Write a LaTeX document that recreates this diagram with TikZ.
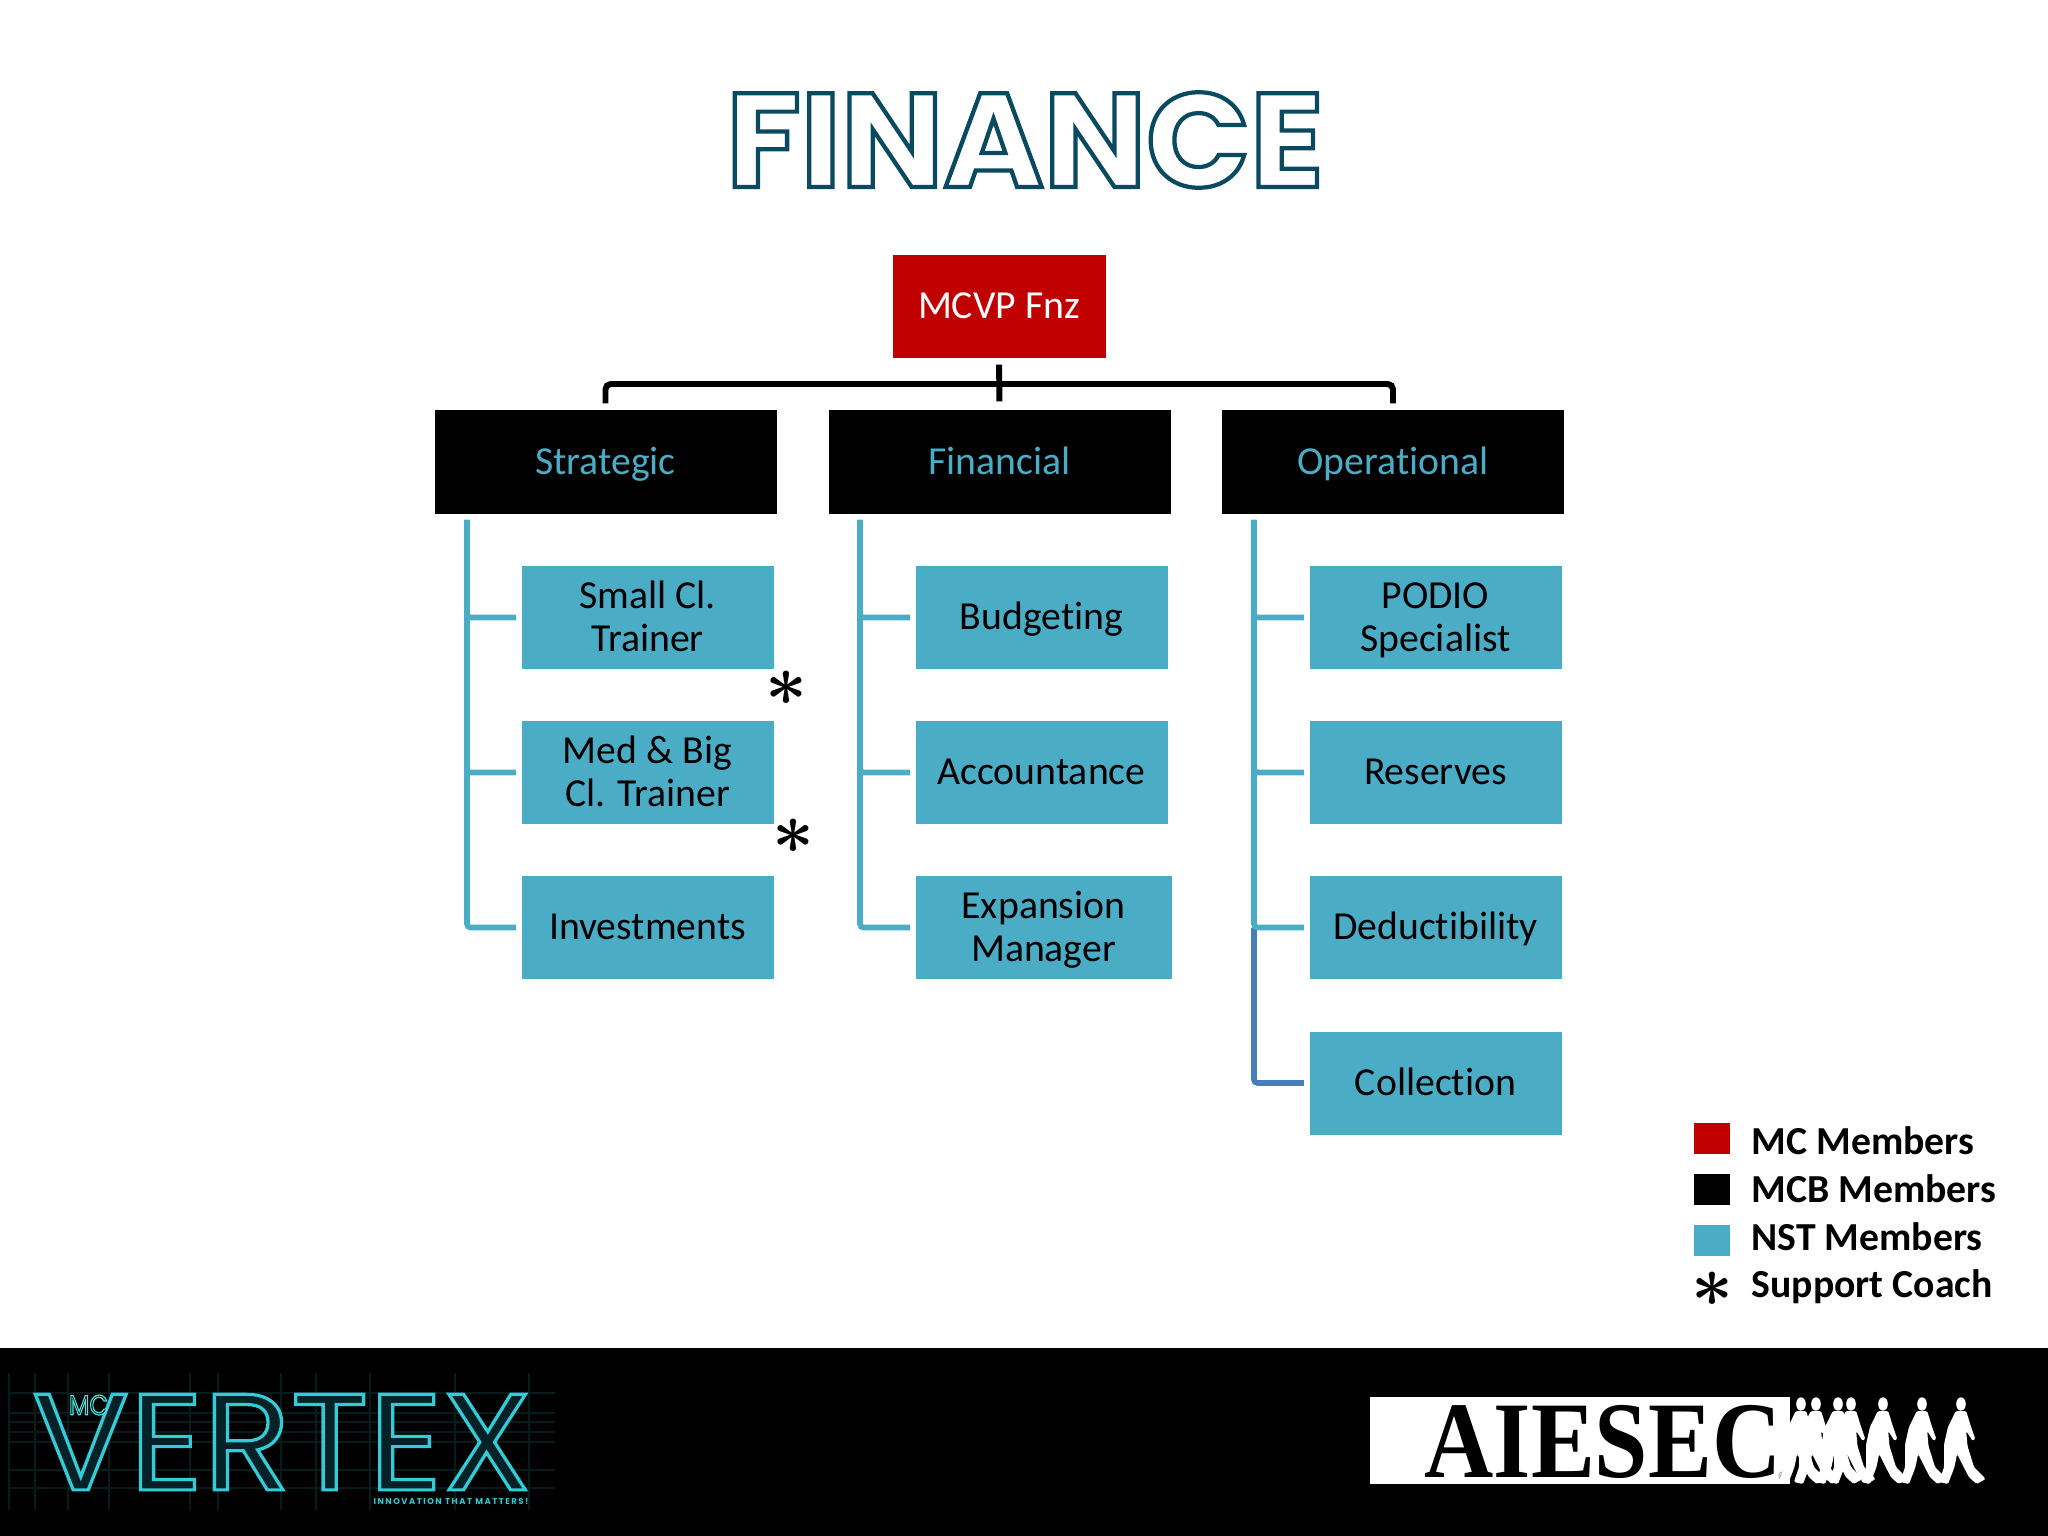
\documentclass[tikz,border=0pt]{standalone}
\usepackage{fontspec}
\setmainfont[RawFeature={-liga}]{Carlito}
\newfontfamily\wordfont{Poppins}
\newfontfamily\tagfont[LetterSpace=18]{Poppins}
\newfontfamily\logofont{Liberation Serif}
\definecolor{mcred}{HTML}{C00000}
\definecolor{nstblue}{HTML}{4BACC6}
\definecolor{fnzblue}{HTML}{4A7DB5}
\definecolor{neon}{HTML}{2FC9D2}
\newcommand{\outlined}[4]{\special{pdf:code #1 rg #2 RG 2 Tr #3 w}#4\special{pdf:code 0 Tr 0 g 0 G 1 w}}
\newcommand{\twoline}[2]{\rule{0pt}{9.8pt}#1\\#2\rule[-2.8pt]{0pt}{2.8pt}}

\begin{document}
\begin{tikzpicture}
  [bodyfont/.style={font=\fontsize{11.3}{12.3}\selectfont},
   oneline/.style={text height=9.8pt,text depth=2.8pt},
   boxmc/.style={fill=mcred,text=white,minimum width=2.13cm,minimum height=1.03cm,inner sep=0,bodyfont,oneline},
   boxmcb/.style={fill=black,text=nstblue,minimum width=3.42cm,minimum height=1.04cm,inner sep=0,bodyfont,oneline},
   boxnst/.style={fill=nstblue,text=black,minimum width=2.52cm,minimum height=1.03cm,inner sep=0,align=center,bodyfont},
   lgbox/.style={minimum width=.36cm,minimum height=.31cm,inner sep=0},
   lgtext/.style={anchor=west,inner sep=0,text height=7.2pt,text depth=0pt,font=\fontsize{11.3}{12.4}\selectfont\bfseries},
   starmark/.style={inner sep=0,font=\fontsize{21}{21}\selectfont\boldmath},
   mcbline/.style={line width=1.7pt,rounded corners=1.5pt,shorten >=.06cm},
   nstline/.style={nstblue,line width=1.6pt,rounded corners=1pt,shorten >=.05cm}]
  \useasboundingbox (0,0) rectangle (20.48,-15.36);

  \node[inner sep=0] (finance) at (10.25,-1.40)
    {\wordfont\fontsize{38}{38}\selectfont\bfseries\scalebox{1.02}[1]{\outlined{1 1 1}{.04 .29 .38}{1.2}{FINANCE}}};

  \node[boxmc] (mcvp) at (9.99,-3.065) {MCVP Fnz};
  \node[boxmcb] (strategic) at (6.055,-4.62) {Strategic};
  \node[boxmcb] (financial) at (9.995,-4.62) {Financial};
  \node[boxmcb] (operational) at (13.93,-4.62) {Operational};

  \node[boxnst] (smallcl) at (6.475,-6.175) {\twoline{Small Cl.}{Trainer}};
  \node[boxnst] (medbig) at (6.475,-7.725) {\twoline{Med \& Big}{Cl. Trainer}};
  \node[boxnst,oneline] (invest) at (6.475,-9.275) {Investments};
  \node[boxnst,oneline] (budget) at (10.415,-6.175) {Budgeting};
  \node[boxnst,oneline] (account) at (10.415,-7.725) {Accountance};
  \node[boxnst,minimum width=2.56cm] (expansion) at (10.435,-9.275) {\twoline{Expansion}{Manager}};
  \node[boxnst] (podio) at (14.355,-6.175) {\twoline{PODIO}{Specialist}};
  \node[boxnst,oneline] (reserves) at (14.355,-7.725) {Reserves};
  \node[boxnst,oneline] (deduct) at (14.355,-9.275) {Deductibility};
  \node[boxnst,oneline] (collection) at (14.355,-10.83) {Collection};

  \coordinate (bus) at (9.99,-3.84);
  \coordinate (st0) at (4.67,-5.20);
  \coordinate (fn0) at (8.60,-5.20);
  \coordinate (op0) at (12.54,-5.20);
  \coordinate (opmid) at (op0 |- deduct.west);

  \draw[mcbline,shorten <=.06cm,shorten >=.08cm] (mcvp) -- (financial);
  \foreach \to in {strategic,operational}
    \draw[mcbline] (bus) -| (\to.north);

  \draw[nstline,fnzblue] (opmid) |- (collection.west);
  \foreach \from/\to in {st0/smallcl, st0/medbig, st0/invest, fn0/budget, fn0/account, fn0/expansion, op0/podio, op0/reserves, op0/deduct}
    \draw[nstline] (\from) |- (\to.west);

  \node[starmark] (star1) at (7.86,-6.88) {$\ast$};
  \node[starmark] (star2) at (7.93,-8.36) {$\ast$};

  \node[lgbox,fill=mcred] (lgmc) at (17.12,-11.385) {};
  \node[lgbox,fill=black] (lgmcb) at (17.12,-11.895) {};
  \node[lgbox,fill=nstblue] (lgnst) at (17.12,-12.40) {};
  \node[starmark] (lgstar) at (17.12,-12.89) {$\ast$};
  \node[lgtext] (txmc) at (17.51,-11.42) {MC Members};
  \node[lgtext] (txmcb) at (17.51,-11.895) {MCB Members};
  \node[lgtext] (txnst) at (17.51,-12.375) {NST Members};
  \node[lgtext] (txcoach) at (17.51,-12.85) {Support Coach};

  \fill[black] (0,-13.48) rectangle (20.48,-15.36);

  \foreach \gx in {0.09,0.35,0.68,1.09,1.90,2.18,2.81,3.16,3.70,4.55,5.29}
    \draw[neon!14!black,line width=.3pt] (\gx,-13.73) -- (\gx,-15.10);
  \foreach \gy in {-13.93,-14.13,-14.22,-14.32,-14.42,-14.70,-14.88}
    \draw[neon!14!black,line width=.3pt] (0.09,\gy) -- (5.55,\gy);

  \node[inner sep=0] (vertex) at (2.82,-14.42)
    {\wordfont\fontsize{39}{39}\selectfont\scalebox{1.05}[1]{\outlined{.01 .13 .15}{.2 .8 .84}{.9}{VERTEX}}};
  \node[inner sep=0] (mc) at (0.885,-14.05)
    {\wordfont\fontsize{8}{8}\selectfont\scalebox{.85}[1]{\outlined{0 0 0}{.3 .9 .9}{.35}{MC}}};
  \node[inner sep=0,text=neon] (motto) at (4.51,-15.01)
    {\tagfont\fontsize{2.4}{3}\selectfont\bfseries INNOVATION THAT MATTERS!};

  \node[fill=white,minimum width=4.2cm,minimum height=.87cm,inner sep=0] (bar) at (15.80,-14.405) {};
  \node[inner sep=0] (aiesec) at (16.03,-14.42)
    {\logofont\fontsize{31}{31}\selectfont\bfseries\scalebox{.88}[1]{AIESEC}};
  \node[inner sep=0,text=black!60] (copyr) at (17.83,-14.76) {\fontsize{3.5}{4}\selectfont ©};

  \foreach \wx in {18.01,18.16,18.38,18.51,18.83,19.22,19.61}
    \fill[white,shift={(\wx,-14.84)},xscale=1.3,rounded corners=.4pt]
      (-.04,.73) -- (.04,.73) -- (.07,.60) -- (.11,.45) -- (.09,.43) -- (.04,.53) -- (.05,.38)
      -- (.10,.17) -- (.19,.05) -- (.12,.0) -- (.06,.07) -- (-.03,.30) -- (-.05,.17) -- (-.10,0)
      -- (-.17,.02) -- (-.13,.17) -- (-.13,.40) -- (-.10,.57) -- cycle
      (0,.80) ellipse (.037 and .067);
\end{tikzpicture}
\end{document}
